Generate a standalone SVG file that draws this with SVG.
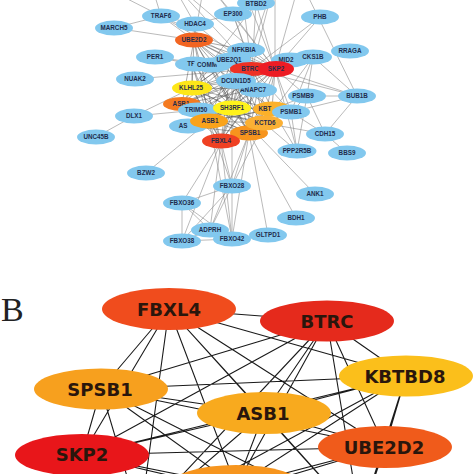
<svg xmlns="http://www.w3.org/2000/svg" width="474" height="474" viewBox="0 0 474 474">
<style>
.b{fill:#82c8ee}
.t{font-family:"Liberation Sans",Arial,sans-serif;font-size:6.3px;font-weight:bold;fill:#1f2d4d;text-anchor:middle}
.L{font-family:"DejaVu Sans",sans-serif;font-weight:bold;font-size:18px;fill:#2a160c;text-anchor:middle}
.ep{fill:none;stroke:#8c8c8c;stroke-width:0.6}
.ec{fill:none;stroke:#555;stroke-width:0.5}
.eb{fill:none;stroke:#1a1a1a;stroke-width:1.1}
</style>
<rect width="474" height="474" fill="#fff"/>
<g id="connectors">
<path class="ep" d="M114 28L161 16M114 28L194 40M161 16L195 24M161 16L194 40M161 16L100 -15M161 16L150 -20M161 16L252 69M161 16L275 69M195 24L194 40M195 24L170 -20M195 24L252 69M233 14L205 -20M233 14L246 50M233 14L252 69M233 14L275 69M233 14L195 24M256 3L275 69M256 3L252 69M256 3L192 88M240 -20L252 69M240 -20L275 69M205 -20L194 40M170 -20L252 69M170 -20L275 69M205 -20L275 69M275 -20L275 69M275 -20L252 69M300 -20L357 96M300 -20L275 69M275 -20L232 108M320 17L275 69M320 17L252 69M313 57L275 69M313 57L357 96M313 57L307 96M313 57L291 112M313 57L264 123M289 60L252 69M155 57L192 64M155 57L212 65M135 79L252 69M134 116L192 88M134 116L198 110M96 137L134 116M146 173L209 121"/>
<path class="ep" d="M232 186L182 203M232 186L210 230M232 186L182 241M232 186L232 239M232 186L221 141M232 186L249 133M232 186L209 121M232 186L232 108M232 186L264 123M182 203L182 241M182 203L232 239M182 203L210 230M182 203L221 141M182 241L232 239M182 241L221 141M182 241L210 230M210 230L221 141M210 230L249 133M232 239L221 141M232 239L249 133M232 239L209 121M268 235L249 133M296 218L249 133M315 194L232 108M297 151L291 112M297 151L307 96M297 151L264 123M297 151L275 69M297 151L272 109M325 134L357 96M325 134L291 112M325 134L347 153M325 134L307 96M325 134L264 123M357 96L307 96M357 96L291 112M357 96L275 69M357 96L252 69M307 96L291 112M307 96L275 69M307 96L272 109M291 112L275 69M291 112L264 123M291 112L252 69"/>
<path class="ec" d="M194 40L252 69M194 40L275 69M194 40L192 88M194 40L182 104M194 40L232 108M194 40L272 109M194 40L209 121M194 40L264 123M194 40L249 133M194 40L221 141M252 69L275 69M252 69L192 88M252 69L182 104M252 69L232 108M252 69L272 109M252 69L209 121M252 69L264 123M252 69L249 133M252 69L221 141M275 69L192 88M275 69L182 104M275 69L232 108M275 69L272 109M275 69L209 121M275 69L264 123M275 69L249 133M275 69L221 141M192 88L182 104M192 88L232 108M192 88L272 109M192 88L209 121M192 88L264 123M192 88L249 133M192 88L221 141M182 104L232 108M182 104L272 109M182 104L209 121M182 104L264 123M182 104L249 133M182 104L221 141M232 108L272 109M232 108L209 121M232 108L264 123M232 108L249 133M232 108L221 141M272 109L209 121M272 109L264 123M272 109L249 133M272 109L221 141M209 121L264 123M209 121L249 133M209 121L221 141M264 123L249 133M264 123L221 141M249 133L221 141"/>
<path class="ec" d="M192 64L252 69M192 64L275 69M192 64L192 88M192 64L232 108M192 64L209 121M192 64L221 141M212 65L252 69M212 65L275 69M212 65L232 108M212 65L272 109M212 65L249 133M212 65L182 104M232 60L194 40M232 60L192 88M232 60L232 108M232 60L264 123M232 60L221 141M232 60L209 121M246 50L194 40M246 50L275 69M246 50L192 88M246 50L232 108M246 50L182 104M246 50L249 133M236 81L275 69M236 81L192 88M236 81L182 104M236 81L249 133M236 81L221 141M236 81L264 123M258 89L182 104M258 89L192 88M258 89L209 121M258 89L221 141M258 89L249 133M258 89L194 40M198 110L275 69M198 110L252 69M198 110L232 108M198 110L264 123M198 110L249 133M188 126L252 69M188 126L232 108M188 126L272 109M188 126L249 133"/>
<path class="eb" d="M169 309L327 321M169 309L406 376M169 309L101 389M169 309L264 413M169 309L385 447M169 309L82 455M169 309L236 486M169 309L140 520M169 309L360 520M327 321L406 376M327 321L101 389M327 321L264 413M327 321L385 447M327 321L82 455M327 321L236 486M327 321L140 520M327 321L360 520M406 376L101 389M406 376L264 413M406 376L385 447M406 376L82 455M406 376L236 486M406 376L140 520M406 376L360 520M101 389L264 413M101 389L385 447M101 389L82 455M101 389L236 486M101 389L140 520M101 389L360 520M264 413L385 447M264 413L82 455M264 413L236 486M264 413L140 520M264 413L360 520M385 447L82 455M385 447L236 486M385 447L140 520M385 447L360 520M82 455L236 486M82 455L140 520M82 455L360 520M236 486L140 520M236 486L360 520M140 520L360 520"/>
</g>
<g id="n-TRAF6"><ellipse class="b" cx="161" cy="16" rx="19" ry="7.5"/><text class="t" x="161" y="18">TRAF6</text></g>
<g id="n-HDAC4"><ellipse class="b" cx="195" cy="24" rx="19" ry="7.5"/><text class="t" x="195" y="26">HDAC4</text></g>
<g id="n-EP300"><ellipse class="b" cx="233" cy="14" rx="19" ry="7.5"/><text class="t" x="233" y="16">EP300</text></g>
<g id="n-BTBD2"><ellipse class="b" cx="256" cy="3" rx="19" ry="7.5"/><text class="t" x="256" y="6">BTBD2</text></g>
<g id="n-PHB"><ellipse class="b" cx="320" cy="17" rx="19" ry="7.5"/><text class="t" x="320" y="19">PHB</text></g>
<g id="n-MARCH5"><ellipse class="b" cx="114" cy="28" rx="19" ry="7.5"/><text class="t" x="114" y="30">MARCH5</text></g>
<g id="n-PER1"><ellipse class="b" cx="155" cy="57" rx="19" ry="7.5"/><text class="t" x="155" y="59">PER1</text></g>
<g id="n-RRAGA"><ellipse class="b" cx="350" cy="51" rx="19" ry="7.5"/><text class="t" x="350" y="53">RRAGA</text></g>
<g id="n-NUAK2"><ellipse class="b" cx="135" cy="79" rx="19" ry="7.5"/><text class="t" x="135" y="81">NUAK2</text></g>
<g id="n-DLX1"><ellipse class="b" cx="134" cy="116" rx="19" ry="7.5"/><text class="t" x="134" y="118">DLX1</text></g>
<g id="n-UNC45B"><ellipse class="b" cx="96" cy="137" rx="19" ry="7.5"/><text class="t" x="96" y="139">UNC45B</text></g>
<g id="n-BUB1B"><ellipse class="b" cx="357" cy="96" rx="19" ry="7.5"/><text class="t" x="357" y="98">BUB1B</text></g>
<g id="n-CDH15"><ellipse class="b" cx="325" cy="134" rx="19" ry="7.5"/><text class="t" x="325" y="136">CDH15</text></g>
<g id="n-PPP2R5B"><ellipse class="b" cx="297" cy="151" rx="19.5" ry="7.5"/><text class="t" x="297" y="153">PPP2R5B</text></g>
<g id="n-BBS9"><ellipse class="b" cx="347" cy="153" rx="19" ry="7.5"/><text class="t" x="347" y="155">BBS9</text></g>
<g id="n-BZW2"><ellipse class="b" cx="146" cy="173" rx="19" ry="7.5"/><text class="t" x="146" y="175">BZW2</text></g>
<g id="n-FBXO28"><ellipse class="b" cx="232" cy="186" rx="19" ry="7.5"/><text class="t" x="232" y="188">FBXO28</text></g>
<g id="n-FBXO36"><ellipse class="b" cx="182" cy="203" rx="19" ry="7.5"/><text class="t" x="182" y="205">FBXO36</text></g>
<g id="n-ANK1"><ellipse class="b" cx="315" cy="194" rx="19" ry="7.5"/><text class="t" x="315" y="196">ANK1</text></g>
<g id="n-BDH1"><ellipse class="b" cx="296" cy="218" rx="19" ry="7.5"/><text class="t" x="296" y="220">BDH1</text></g>
<g id="n-ADPRH"><ellipse class="b" cx="210" cy="230" rx="19" ry="7.5"/><text class="t" x="210" y="232">ADPRH</text></g>
<g id="n-FBXO38"><ellipse class="b" cx="182" cy="241" rx="19" ry="7.5"/><text class="t" x="182" y="243">FBXO38</text></g>
<g id="n-FBXO42"><ellipse class="b" cx="232" cy="239" rx="19" ry="7.5"/><text class="t" x="232" y="241">FBXO42</text></g>
<g id="n-GLTPD1"><ellipse class="b" cx="268" cy="235" rx="19" ry="7.5"/><text class="t" x="268" y="237">GLTPD1</text></g>
<g id="n-TF"><ellipse class="b" cx="194" cy="64" rx="19" ry="7.5"/><text class="t" x="191" y="66">TF</text></g>
<g id="n-COMM"><ellipse class="b" cx="212" cy="65" rx="19" ry="7.5"/><text class="t" x="207" y="67">COMM</text></g>
<g id="n-NFKBIA"><ellipse class="b" cx="246" cy="50" rx="19" ry="7.5"/><text class="t" x="244" y="52">NFKBIA</text></g>
<g id="n-UBE2Q1"><ellipse class="b" cx="232" cy="60" rx="19" ry="7.5"/><text class="t" x="229" y="62">UBE2Q1</text></g>
<g id="n-UBE2D2"><ellipse cx="194" cy="40" rx="19" ry="7.5" fill="#f26522"/><text class="t" x="194" y="42">UBE2D2</text></g>
<g id="n-MID2"><ellipse class="b" cx="290" cy="60" rx="19" ry="7.5"/><text class="t" x="286" y="62">MID2</text></g>
<g id="n-CKS1B"><ellipse class="b" cx="313" cy="57" rx="19" ry="7.5"/><text class="t" x="313" y="59">CKS1B</text></g>
<g id="n-BTRC"><ellipse cx="251" cy="69" rx="21" ry="7" fill="#ee3124"/><text class="t" x="250" y="71">BTRC</text></g>
<g id="n-SKP2"><ellipse cx="276" cy="69" rx="18" ry="8" fill="#ed1c24"/><text class="t" x="276" y="71">SKP2</text></g>
<g id="n-ANAPC7"><ellipse class="b" cx="258" cy="90" rx="19" ry="7.5"/><text class="t" x="253" y="92">ANAPC7</text></g>
<g id="n-DCUN1D5"><ellipse class="b" cx="236" cy="81" rx="20" ry="8"/><text class="t" x="236" y="83">DCUN1D5</text></g>
<g id="n-KLHL25"><ellipse cx="192" cy="88" rx="20" ry="7.5" fill="#fde619"/><text class="t" x="191" y="90">KLHL25</text></g>
<g id="n-ASB14"><ellipse cx="182" cy="104" rx="19" ry="7" fill="#f47a20"/><text class="t" x="181" y="106">ASB1</text></g>
<g id="n-TRIM50"><ellipse class="b" cx="198" cy="110" rx="20" ry="7.5"/><text class="t" x="196" y="112">TRIM50</text></g>
<g id="n-AS"><ellipse class="b" cx="188" cy="126" rx="19" ry="7.5"/><text class="t" x="183" y="128">AS</text></g>
<g id="n-ASB1"><ellipse cx="209" cy="121" rx="19" ry="7.5" fill="#f9a31b"/><text class="t" x="210" y="123">ASB1</text></g>
<g id="n-SH3RF1"><ellipse cx="232" cy="108" rx="19" ry="7.5" fill="#fff21c"/><text class="t" x="232" y="110">SH3RF1</text></g>
<g id="n-KBTBD8"><ellipse cx="272" cy="109" rx="19" ry="7.5" fill="#fbb12a"/><text class="t" x="265" y="111">KBT</text></g>
<g id="n-PSMB9"><ellipse class="b" cx="307" cy="96" rx="19" ry="7.5"/><text class="t" x="303" y="98">PSMB9</text></g>
<g id="n-PSMB1"><ellipse class="b" cx="291" cy="112" rx="19" ry="7.5"/><text class="t" x="291" y="114">PSMB1</text></g>
<g id="n-SPSB1"><ellipse cx="249" cy="133" rx="19" ry="7.5" fill="#f7941d"/><text class="t" x="250" y="135">SPSB1</text></g>
<g id="n-KCTD6"><ellipse cx="264" cy="123" rx="19" ry="7.5" fill="#fbb034"/><text class="t" x="265" y="125">KCTD6</text></g>
<g id="n-FBXL4"><ellipse cx="221" cy="141" rx="19" ry="7.5" fill="#ef4123"/><text class="t" x="221" y="143">FBXL4</text></g>
<text x="1" y="321" font-family="'Liberation Serif','Times New Roman',serif" font-size="34" fill="#222">B</text>
<g id="b-FBXL4"><ellipse cx="169" cy="309" rx="67" ry="21" fill="#f04c1d"/><text class="L" x="169" y="315.5">FBXL4</text></g>
<g id="b-BTRC"><ellipse cx="327" cy="321" rx="67" ry="20.5" fill="#e52a1c"/><text class="L" x="327" y="328">BTRC</text></g>
<g id="b-KBTBD8"><ellipse cx="406" cy="376" rx="67" ry="20.5" fill="#fbbf1b"/><text class="L" x="405" y="383">KBTBD8</text></g>
<g id="b-SPSB1"><ellipse cx="101" cy="389" rx="67" ry="20.5" fill="#f7a01e"/><text class="L" x="100" y="395.5">SPSB1</text></g>
<g id="b-ASB1"><ellipse cx="264" cy="413" rx="67" ry="21" fill="#f8aa1e"/><text class="L" x="263" y="420">ASB1</text></g>
<g id="b-UBE2D2"><ellipse cx="385" cy="447" rx="67" ry="21" fill="#f05b1b"/><text class="L" x="384" y="454">UBE2D2</text></g>
<g id="b-SKP2"><ellipse cx="82" cy="455" rx="67" ry="21" fill="#e8161a"/><text class="L" x="82" y="461">SKP2</text></g>
<g id="b-hidden"><ellipse cx="236" cy="486" rx="67" ry="21" fill="#f6951e"/></g>
</svg>
